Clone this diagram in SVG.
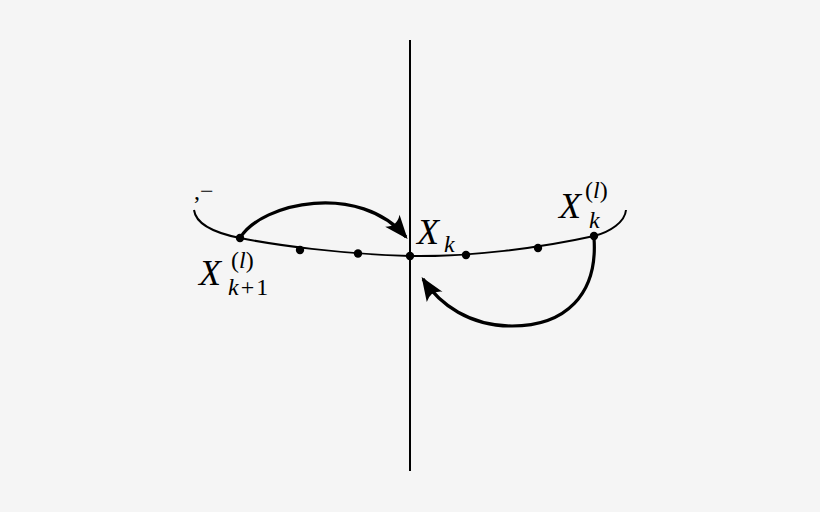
<svg xmlns="http://www.w3.org/2000/svg" width="820" height="512" viewBox="0 0 820 512">
<style>
.math{font-family:"Liberation Serif","DejaVu Serif",serif;font-style:italic;fill:#000}
.up{font-family:"Liberation Serif","DejaVu Serif",serif;font-style:normal;fill:#000}
.big{font-size:36px}
.small{font-size:24px}
.curve{fill:none;stroke:#000;stroke-width:2}
.arc{fill:none;stroke:#000;stroke-width:3.2}
.dot{fill:#000}
</style>
<defs>
<marker id="ah" markerUnits="userSpaceOnUse" markerWidth="30" markerHeight="30" viewBox="-20 -10 24 20" refX="0" refY="0" orient="auto">
<path d="M2,0 L-17,-7.5 Q-11,0 -17,7.5 Z" fill="#000"/>
</marker>
</defs>
<rect width="820" height="512" fill="#f5f5f5"/>
<g id="axis">
<line x1="410" y1="40" x2="410" y2="471" stroke="#000" stroke-width="2"/>
</g>
<g id="orbit">
<path class="curve" d="M194,210 C196,225 215,233 240,238 C275,245 340,254 410,256 C470,257 540,248 594,236 C610,232 625,222 626,210"/>
</g>
<g id="connectors">
<path class="arc" d="M240,238 C262,202 360,182 406,237" marker-end="url(#ah)"/>
<path class="arc" d="M594,238 C598,295 565,326 512,326 C470,326 440,305 423,279" marker-end="url(#ah)"/>
</g>
<g id="points">
<circle class="dot" cx="240" cy="238" r="4.2"/>
<circle class="dot" cx="300" cy="250" r="4.2"/>
<circle class="dot" cx="358" cy="253.5" r="4.2"/>
<circle class="dot" cx="410" cy="256" r="4.2"/>
<circle class="dot" cx="466" cy="255" r="4.2"/>
<circle class="dot" cx="538" cy="248" r="4.2"/>
<circle class="dot" cx="594" cy="236" r="4.2"/>
</g>
<g id="label-xk">
<text class="math big" x="417" y="244">X</text>
<text class="math small" x="444" y="252">k</text>
</g>
<g id="label-xkl">
<text class="math big" x="559" y="218">X</text>
<text class="up small" x="585" y="198">(<tspan class="math">l</tspan>)</text>
<text class="math small" x="589" y="228">k</text>
</g>
<g id="label-xk1l">
<text class="math big" x="199" y="285">X</text>
<text class="up small" x="231" y="268">(<tspan class="math">l</tspan>)</text>
<text class="math small" x="228" y="295">k<tspan class="up" dx="2">+</tspan><tspan class="up" dx="2">1</tspan></text>
</g>
<g id="label-clipped">
<text class="up" x="194" y="199" font-size="24">,−</text>
</g>
</svg>
